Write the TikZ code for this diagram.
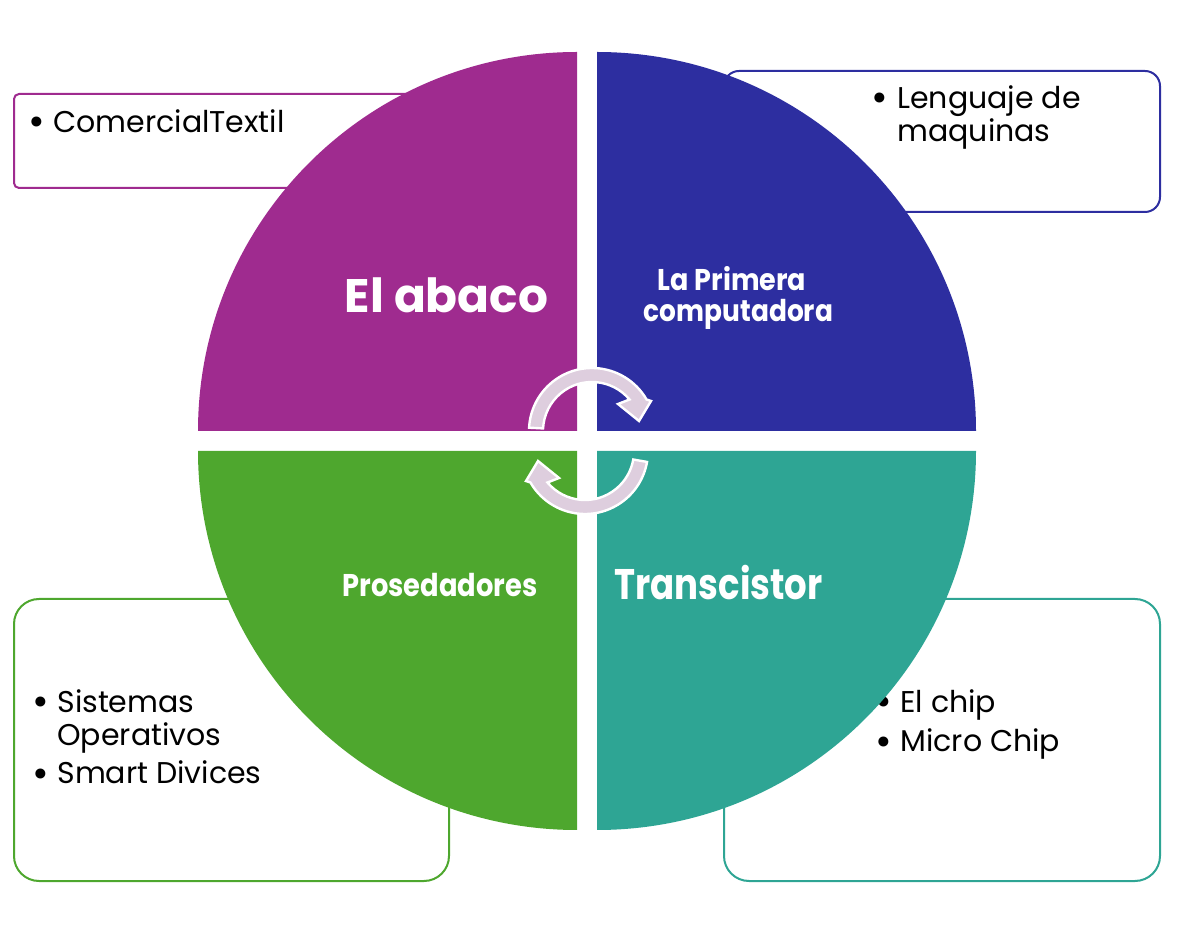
\documentclass[tikz,border=0pt]{standalone}
\usepackage{graphicx}
\usepackage{fontspec}
\setmainfont{Poppins}
\definecolor{purp}{RGB}{159,43,143}
\definecolor{blu}{RGB}{45,46,160}
\definecolor{grn}{RGB}{78,167,46}
\definecolor{teal2}{RGB}{46,165,148}
\definecolor{arrfill}{RGB}{222,206,222}
\newcommand{\bul}{\raisebox{-1.5pt}{\scalebox{1.35}{•}}}
\newcommand{\twolines}[2]{\begin{tabular}[t]{@{}l@{}}#1\\#2\end{tabular}}
\tikzset{
  infobox/.style={draw=#1, fill=white, line width=1pt, inner sep=0pt, rectangle},
  bodytext/.style={anchor=base west, inner sep=0pt, font=\fontsize{15}{16.5}\selectfont, text=black},
  bigtext/.style={anchor=base, inner sep=0pt, text=white, font=\bfseries\fontsize{#1}{#1}\selectfont},
  cyclearrow/.style={fill=arrfill, draw=white, line width=1.2pt, line join=miter},
}
\begin{document}
\begin{tikzpicture}[x=0.5pt,y=0.5pt]
\useasboundingbox (0,0) rectangle (1200,927);
% boxes
\node[infobox=purp, rounded corners=2.5pt, minimum width=218pt, minimum height=47pt] (boxA) at (232,786) {};
\node[infobox=blu, rounded corners=7.5pt, minimum width=218pt, minimum height=70.5pt] (boxB) at (942,785.5) {};
\node[infobox=grn, rounded corners=12.5pt, minimum width=217.5pt, minimum height=141pt] (boxC) at (231.5,187) {};
\node[infobox=teal2, rounded corners=12.5pt, minimum width=218pt, minimum height=141pt] (boxD) at (942,187) {};
% box texts
\node[bodytext] (bA1) at (28,794) {\bul};
\node[bodytext] (tA1) at (53,794) {ComercialTextil};
\node[bodytext] (bB1) at (871,818) {\bul};
\node[bodytext] (tB1) at (897,818) {\twolines{Lenguaje de}{maquinas}};
\node[bodytext] (bC1) at (32,214) {\bul};
\node[bodytext] (tC1) at (57,214) {\twolines{Sistemas}{Operativos}};
\node[bodytext] (bC2) at (32,143) {\bul};
\node[bodytext] (tC3) at (57,143) {Smart Divices};
\node[bodytext] (bD1) at (875,214) {\bul};
\node[bodytext] (tD1) at (900,214) {El chip};
\node[bodytext] (bD2) at (875,175) {\bul};
\node[bodytext] (tD2) at (900,175) {Micro Chip};
% quadrants
\fill[purp] (577,496) -- (198,496) arc[start angle=180,end angle=90,radius=189.5pt] -- cycle;
\fill[blu] (597,496) -- (597,875) arc[start angle=90,end angle=0,radius=189.5pt] -- cycle;
\fill[grn] (577,476) -- (198,476) arc[start angle=180,end angle=270,radius=189.5pt] -- cycle;
\fill[teal2] (597,476) -- (976,476) arc[start angle=0,end angle=-90,radius=189.5pt] -- cycle;
% labels
\node[bigtext=23.5] (lA) at (446.5,614) {El abaco};
\node[bigtext=15] (lB1) at (732,636) {\scalebox{0.9}[1]{La Primera}};
\node[bigtext=15] (lB2) at (738.5,605) {\scalebox{0.88}[1]{computadora}};
\node[bigtext=15.7] (lC) at (440,330) {\scalebox{0.87}[1]{Prosedadores}};
\node[bigtext=21.4] (lD) at (718.5,327) {\scalebox{0.83}[1]{Transcistor}};
% cycle arrows
\begin{scope}[shift={(592,496)}]
\filldraw[cyclearrow] (177:63) arc[start angle=177,end angle=30,radius=31.5pt] -- (59,30) -- (47,10) -- (26,27) -- (40:49) arc[start angle=40,end angle=177,radius=24.5pt] -- cycle;
\end{scope}
\begin{scope}[shift={(585,476)}]
\filldraw[cyclearrow] (-10:63) arc[start angle=-10,end angle=-150,radius=31.5pt] -- (-59,-30) -- (-47,-10) -- (-26,-27) -- (220:49) arc[start angle=220,end angle=350,radius=24.5pt] -- cycle;
\end{scope}
\end{tikzpicture}
\end{document}
